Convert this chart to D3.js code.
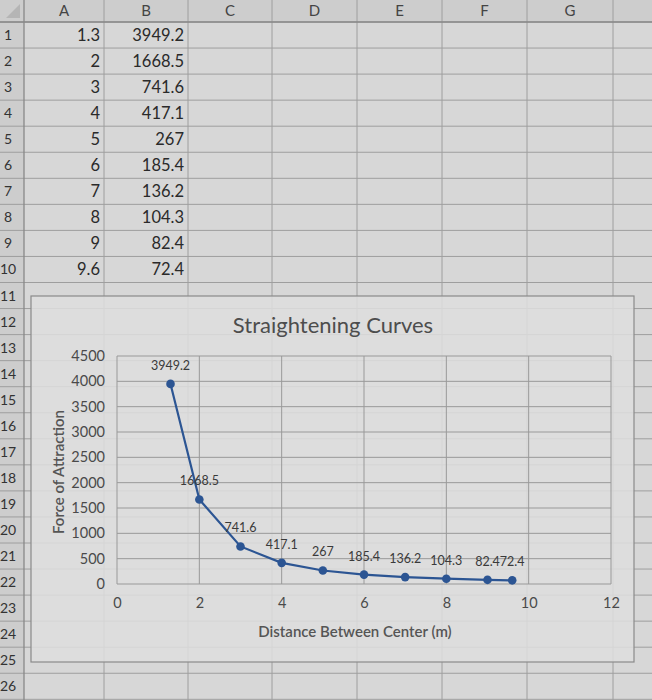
<!DOCTYPE html>
<html><head><meta charset="utf-8">
<script src="https://cdn.jsdelivr.net/npm/d3@7"></script>
<style>html,body{margin:0;padding:0;background:#d7d7d7;overflow:hidden}</style>
</head><body>
<svg id="c" width="652" height="700"></svg>
<script>
// ---- data ----
const distance = [1.3, 2, 3, 4, 5, 6, 7, 8, 9, 9.6];
const force = [3949.2, 1668.5, 741.6, 417.1, 267, 185.4, 136.2, 104.3, 82.4, 72.4];
const xTicks = [0, 2, 4, 6, 8, 10, 12];
const yTicks = [0, 500, 1000, 1500, 2000, 2500, 3000, 3500, 4000, 4500];
const columnLetters = ["A", "B", "C", "D", "E", "F", "G", ""];
const rowNumbers = d3.range(1, 27);
const chartTitle = "Straightening Curves";
const xTitle = "Distance Between Center (m)";
const yTitle = "Force of Attraction";

// ---- layout ----
const svg = d3.select("#c");
const FONT = "Lato, 'Open Sans', sans-serif";
const colEdges = [24, 104, 188, 272, 357, 442, 527, 613, 700];
const headerH = 22, rowH = 26.05;
const sheetBg = "#d7d7d7", headBg = "#cdcdcd", gridC = "#9e9e9e";

svg.append("rect").attr("width", 652).attr("height", 700).attr("fill", sheetBg);
svg.append("rect").attr("x", 0).attr("y", 0).attr("width", 652).attr("height", headerH).attr("fill", headBg);
svg.append("rect").attr("x", 0).attr("y", 0).attr("width", colEdges[0]).attr("height", 700).attr("fill", headBg);

const rowY = i => headerH + (i - 1) * rowH;
rowNumbers.concat([27]).forEach(r => {
  svg.append("line").attr("x1", 0).attr("x2", 652).attr("y1", rowY(r)).attr("y2", rowY(r))
    .attr("stroke", gridC).attr("stroke-width", 1);
});
colEdges.forEach((x, i) => {
  svg.append("line").attr("x1", x).attr("x2", x).attr("y1", 0).attr("y2", 700)
    .attr("stroke", i === 0 ? "#888" : gridC).attr("stroke-width", i === 0 ? 1.3 : 1);
});
svg.append("line").attr("x1", 0).attr("x2", 652).attr("y1", headerH).attr("y2", headerH)
  .attr("stroke", "#888").attr("stroke-width", 1.3);
svg.append("path").attr("d", `M6,${headerH-4} L${colEdges[0]-4},${headerH-4} L${colEdges[0]-4},4 Z`).attr("fill", "#b5b5b5");
columnLetters.forEach((t, i) => {
  svg.append("text").attr("x", (colEdges[i] + colEdges[i + 1]) / 2).attr("y", 16)
    .attr("text-anchor", "middle").attr("font-family", FONT).attr("font-size", 15).attr("fill", "#444").text(t);
});
rowNumbers.forEach(r => {
  svg.append("text").attr("x", 8).attr("y", rowY(r) + rowH / 2 + 5)
    .attr("text-anchor", "middle").attr("font-family", FONT).attr("font-size", 14).attr("fill", "#333").text(r);
});
distance.forEach((d, i) => {
  const yy = rowY(i + 1) + rowH / 2 + 6;
  svg.append("text").attr("x", colEdges[1] - 4).attr("y", yy).attr("text-anchor", "end")
    .attr("font-family", FONT).attr("font-size", 16.5).attr("fill", "#2a2a2a").text(String(d));
  svg.append("text").attr("x", colEdges[2] - 4).attr("y", yy).attr("text-anchor", "end")
    .attr("font-family", FONT).attr("font-size", 16.5).attr("fill", "#2a2a2a").text(String(force[i]));
});

// ---- chart object ----
const chart = {x: 31, y: 296, w: 603, h: 366};
svg.append("rect").attr("x", chart.x).attr("y", chart.y).attr("width", chart.w).attr("height", chart.h)
  .attr("fill", "#dedede").attr("fill-opacity", 0.85).attr("stroke", "#8a8a8a").attr("stroke-width", 1.2);

const plot = {l: 117, r: 611, t: 356, b: 584};
const x = d3.scaleLinear().domain([0, 12]).range([plot.l, plot.r]);
const y = d3.scaleLinear().domain([0, 4500]).range([plot.b, plot.t]);

const g = svg.append("g");
g.selectAll(".hg").data(yTicks).join("line")
  .attr("x1", plot.l).attr("x2", plot.r).attr("y1", d => y(d)).attr("y2", d => y(d))
  .attr("stroke", "#999").attr("stroke-width", 1);
g.selectAll(".vg").data(xTicks).join("line")
  .attr("y1", plot.t).attr("y2", plot.b).attr("x1", d => x(d)).attr("x2", d => x(d))
  .attr("stroke", "#999").attr("stroke-width", 1);

const xAxis = svg.append("g").attr("transform", `translate(0,${plot.b})`)
  .call(d3.axisBottom(x).tickValues(xTicks).tickFormat(d3.format("d")).tickSize(0).tickPadding(14));
const yAxis = svg.append("g").attr("transform", `translate(${plot.l},0)`)
  .call(d3.axisLeft(y).tickValues(yTicks).tickFormat(d3.format("d")).tickSize(0).tickPadding(12));
[xAxis, yAxis].forEach(a => {
  a.select(".domain").remove();
  a.selectAll("text").attr("font-family", FONT).attr("font-size", 14.5).attr("fill", "#4a4a4a");
});

svg.append("text").attr("x", 333).attr("y", 333).attr("text-anchor", "middle")
  .attr("font-family", FONT).attr("font-size", 22).attr("fill", "#4d4d4d").text(chartTitle);
svg.append("text").attr("x", 355).attr("y", 637).attr("text-anchor", "middle")
  .attr("font-family", FONT).attr("font-size", 15).attr("font-weight", 600).attr("fill", "#555").text(xTitle);
svg.append("text").attr("transform", `translate(64,${(plot.t + plot.b) / 2 + 2}) rotate(-90)`).attr("text-anchor", "middle")
  .attr("font-family", FONT).attr("font-size", 15).attr("font-weight", 600).attr("fill", "#555").text(yTitle);

const pts = distance.map((d, i) => ({x: d, y: force[i]}));
const blue = "#2c5593";
svg.append("path").datum(pts)
  .attr("d", d3.line().x(d => x(d.x)).y(d => y(d.y)))
  .attr("fill", "none").attr("stroke", blue).attr("stroke-width", 2.2);
svg.selectAll(".pt").data(pts).join("circle")
  .attr("cx", d => x(d.x)).attr("cy", d => y(d.y)).attr("r", 4.3).attr("fill", blue);
svg.selectAll(".lbl").data(pts).join("text")
  .attr("x", d => x(d.x)).attr("y", d => y(d.y) - 14).attr("text-anchor", "middle")
  .attr("font-family", FONT).attr("font-size", 12.5).attr("fill", "#3a3a3a").text(d => d.y);
</script>
</body></html>
